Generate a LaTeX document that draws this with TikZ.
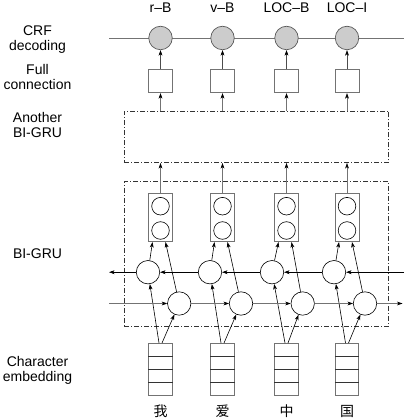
\documentclass[tikz,border=0pt]{standalone}
\usepackage{fontspec}
\setmainfont{Liberation Sans}
\newfontfamily\cjk{Noto Sans CJK SC}
\usetikzlibrary{arrows.meta,calc}
\begin{document}
\begin{tikzpicture}[x=1pt,y=-1pt,
  txt/.style={font=\fontsize{14}{15}\selectfont, align=center, inner sep=0pt},
  arr/.style={line width=0.6pt, -{Stealth[length=5.5pt,width=3.8pt,inset=1.5pt,color=black]}},
  garr/.style={arr, draw=black!55},
  crfc/.style={circle, draw=black!65, fill=black!20, line width=0.7pt, minimum size=23.5pt, inner sep=0pt},
  fcbox/.style={rectangle, draw=black!55, line width=0.7pt, minimum width=24pt, minimum height=23.5pt, inner sep=0pt},
  dashbox/.style={rectangle, draw=black!80, line width=0.6pt, dash pattern=on 5pt off 2pt on 1pt off 2pt, inner sep=0pt},
  gatebox/.style={rectangle, draw=black!55, line width=0.7pt, minimum width=24pt, minimum height=48.4pt, inner sep=0pt},
  gatec/.style={circle, draw=black, line width=0.6pt, minimum size=17.6pt, inner sep=0pt},
  gruc/.style={circle, draw=black, fill=white, line width=0.6pt, minimum size=23.4pt, inner sep=0pt},
  embbox/.style={rectangle, draw=black!55, line width=0.7pt, minimum width=23.5pt, minimum height=51.7pt, inner sep=0pt},
]
\useasboundingbox (0,0) rectangle (404,419);

% left labels
\node[txt] (l1) at (37.5,40) {CRF\\decoding};
\node[txt] (l2) at (37.5,77) {Full\\connection};
\node[txt] (l3) at (37.5,125) {Another\\BI-GRU};
\node[txt] (l4) at (37.5,254) {BI-GRU};
\node[txt] (l5) at (37.5,370) {Character\\embedding};

% CRF line
\coordinate (crfL) at (109,38);
\coordinate (crfR) at (404,38);
\draw[black!55, line width=0.7pt] (crfL) -- (crfR);

% boxes
\node[dashbox, minimum width=264.7pt, minimum height=51.7pt] (ab) at (256.35,136.85) {};
\node[dashbox, minimum width=264.7pt, minimum height=144.3pt] (bb) at (256.35,253.85) {};

% horizontal GRU lines coordinates
\coordinate (bR) at (404,272.2);
\coordinate (bL) at (109,272.2);
\coordinate (fL) at (109,303.5);
\coordinate (fR) at (402.5,303.5);

\foreach \i/\cx/\bx/\fx/\lab/\ch in {1/160.5/148/179.2/r–B/我, 2/222.5/210/241/v–B/爱, 3/286.5/272/302.7/LOC–B/中, 4/347/334/365/LOC–I/国}{
  \node[txt] (lab\i) at (\cx,8) {\lab};
  \node[crfc] (c\i) at (\cx,38) {};
  \node[fcbox] (f\i) at (\cx,81) {};
  \draw[arr, draw=black!70] (f\i.north) -- (c\i.south);
  \draw[garr] (f\i.south |- ab.north) -- (f\i.south);
  \node[gatebox] (g\i) at (\cx,217.5) {};
  \node[gatec] (gu\i) at (\cx,206.2) {};
  \node[gatec] (gd\i) at (\cx,230.5) {};
  \draw[garr] (g\i.north) -- (g\i.north |- ab.south);
  \node[gruc] (b\i) at (\bx,272.2) {};
  \node[gruc] (w\i) at (\fx,303.5) {};
  \node[embbox] (e\i) at (\cx,369.2) {};
  \draw[black!80, line width=0.6pt] ($(e\i.north west)+(0,12.9)$) -- ($(e\i.north east)+(0,12.9)$)
                   ($(e\i.north west)+(0,25.85)$) -- ($(e\i.north east)+(0,25.85)$)
                   ($(e\i.north west)+(0,38.8)$) -- ($(e\i.north east)+(0,38.8)$);
  \node[font=\cjk\fontsize{14}{14}\selectfont, inner sep=0pt] (ch\i) at (\cx,411.5) {\ch};
  \draw[arr] (b\i) -- ($(g\i.south)+(-8,0)$);
  \draw[arr] (w\i) -- ($(g\i.south)+(5,0)$);
  \draw[arr] ($(e\i.north)+(-1.5,0)$) -- (b\i);
  \draw[arr] ($(e\i.north)+(1.5,0)$) -- (w\i);
}

% backward line (right to left)
\draw[arr] (bR) -- (b4);
\draw[arr] (b4) -- (b3);
\draw[arr] (b3) -- (b2);
\draw[arr] (b2) -- (b1);
\draw[arr] (b1) -- (bL);
% forward line (left to right)
\draw[garr] (fL) -- (w1);
\draw[garr] (w1) -- (w2);
\draw[garr] (w2) -- (w3);
\draw[garr] (w3) -- (w4);
\draw[garr] (w4) -- (fR);
\end{tikzpicture}
\end{document}
